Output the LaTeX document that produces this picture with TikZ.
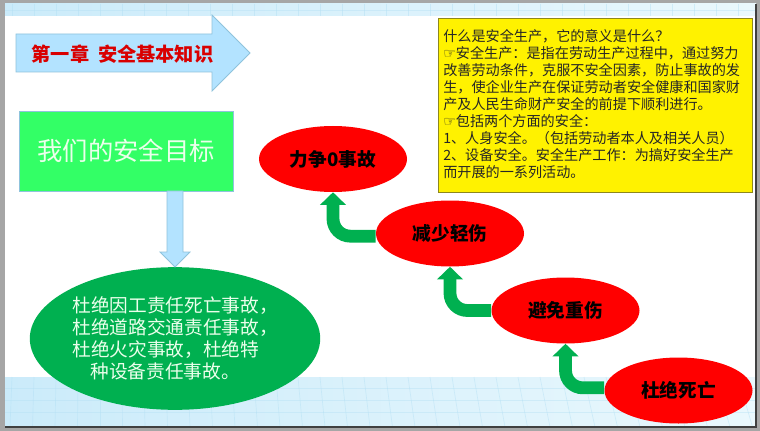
\documentclass[tikz,border=0pt]{standalone}
\usepackage{fontspec}
\setmainfont{Noto Sans CJK SC}
\newfontfamily\symfont{DejaVu Sans}
\usetikzlibrary{shapes.geometric,arrows.meta}
\definecolor{framegray}{HTML}{A6A6A6}
\definecolor{bandL}{HTML}{CBEBFA}
\definecolor{bandR}{HTML}{EAF8FD}
\definecolor{gridc}{HTML}{B2DFF4}
\definecolor{skyb}{HTML}{B3E3FF}
\definecolor{skyd}{HTML}{8FC3DC}
\definecolor{brightg}{HTML}{33FF66}
\definecolor{darkg}{HTML}{00B050}
\tikzset{
  x=0.75pt,y=-0.75pt,
  redell/.style={ellipse,fill=red,minimum width=111pt,minimum height=49.5pt,inner sep=0pt,font=\fontsize{14}{16}\selectfont\bfseries,text=black},
  uparrow/.style={draw=darkg,line width=9.6pt,rounded corners=13pt,-{Triangle[width=19pt,length=9.5pt]}},
  bluearrow/.style={fill=skyb,draw=skyd,line width=0.6pt},
}
\begin{document}
\begin{tikzpicture}
\useasboundingbox (0,0) rectangle (760,431);
\fill[framegray] (0,0) rectangle (760,431);
\fill[white] (5,4) rectangle (756,427);
\shade[left color=bandL,right color=bandR] (5,4) rectangle (756,16);
\shade[left color=bandL,right color=bandR] (5,377) rectangle (756,427);
\foreach \i in {0,...,33} {
  \draw[gridc,opacity=.45,line width=.5pt] ({12+22*\i},4) -- ({12+22*\i},16);
  \draw[gridc,opacity=.45,line width=.5pt] ({12+22*\i},377) -- ({10+22.5*\i},427);
}
\foreach \y in {10,388,400,412} \draw[gridc,opacity=.4,line width=.5pt] (5,\y) -- (756,\y);
\draw[black!75,line width=.8pt] (5,427) -- (756,427) -- (756,4);

% title arrow
\path[bluearrow,draw] (16,34) -- (212,34) -- (212,15) -- (250,53) -- (212,91) -- (212,72) -- (16,72) -- cycle;
\node (title) at (122.5,54) {\fontsize{14.4}{16}\selectfont\bfseries\color{red!85!black}第一章~~安全基本知识};

% goal box and down arrow
\node[draw=skyd,fill=brightg,line width=.6pt,minimum width=160.5pt,minimum height=60pt,inner sep=0pt,text=white!92!green,font=\fontsize{19}{22}\selectfont] (goal) at (126,151) {我们的安全目标};
\node[ellipse,fill=darkg,minimum width=214.5pt,minimum height=107pt,inner sep=0pt,text=white!92!green,align=center,font=\fontsize{14}{16.5}\selectfont] (zero) at (175,338.5) {杜绝因工责任死亡事故，\\杜绝道路交通责任事故，\\杜绝火灾事故，杜绝特\rule{14pt}{0pt}\\种设备责任事故。\rule{15pt}{0pt}};
\path[bluearrow,draw] (167,191) -- (183,191) -- (183,252) -- (190,252) -- (175,267) -- (160,252) -- (167,252) -- cycle;

% info box
\node[draw=olive!80!gray,fill=yellow,line width=.7pt,minimum width=235.5pt,minimum height=130.5pt,inner sep=0pt] (info) at (595,105) {};
\node[anchor=north west,inner sep=0pt,align=left,font=\fontsize{10.6}{12.75}\selectfont,text=black!85] (infotext) at (443,29) {什么是安全生产，它的意义是什么？\\
{\symfont\bfseries ☞}安全生产：是指在劳动生产过程中，通过努力\\
改善劳动条件，克服不安全因素，防止事故的发\\
生，使企业生产在保证劳动者安全健康和国家财\\
产及人民生命财产安全的前提下顺利进行。\\
{\symfont\bfseries ☞}包括两个方面的安全：\\
1、人身安全。（包括劳动者本人及相关人员）\\
2、设备安全。安全生产工作：为搞好安全生产\\
而开展的一系列活动。};

% red goals
\node[redell] (e1) at (333,159) {力争0事故};
\node[redell] (e2) at (450,233.5) {减少轻伤};
\node[redell] (e3) at (565.5,310.5) {避免重伤};
\node[redell] (e4) at (678.5,390.5) {杜绝死亡};

\coordinate (a1) at ([yshift=-2pt]e2.west);
\coordinate (a2) at (e3.west);
\coordinate (a3) at ([yshift=2pt]e4.west);
\draw[uparrow] (a1) -- (a1 -| e1.south) -- (e1.south);
\draw[uparrow] (a2) -- (a2 -| e2.south) -- (e2.south);
\draw[uparrow] (a3) -- (a3 -| e3.south) -- (e3.south);
\end{tikzpicture}
\end{document}
